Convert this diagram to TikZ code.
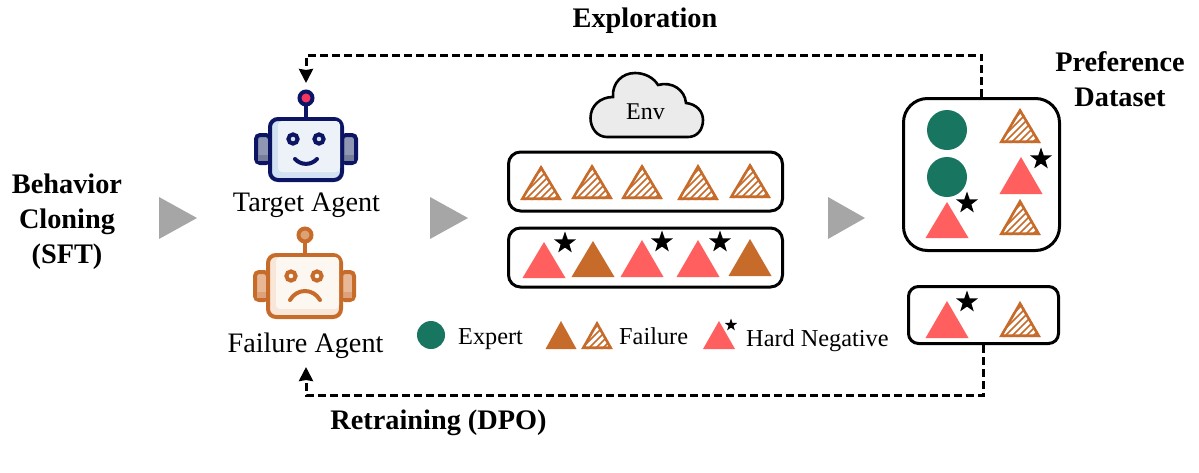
\documentclass[tikz,border=0pt]{standalone}
\usepackage{fontspec}
\setmainfont{Liberation Serif}
\usetikzlibrary{shapes.geometric,arrows.meta}
\definecolor{navy}{HTML}{0C1464}
\definecolor{rust}{HTML}{C66B2A}
\definecolor{coral}{HTML}{FF5F5F}
\definecolor{teal2}{HTML}{187660}
\definecolor{arrowgrey}{HTML}{A6A6A6}
\definecolor{cloudgrey}{HTML}{EBEBEB}
\definecolor{earblue}{HTML}{8F97B3}
\definecolor{earbluedark}{HTML}{767C9A}
\definecolor{facelight}{HTML}{EDF1F8}
\definecolor{faceshade}{HTML}{D3E2F2}
\definecolor{pinkdot}{HTML}{F5345F}
\definecolor{earrust}{HTML}{E8B795}
\definecolor{earrustdark}{HTML}{DDA27A}
\definecolor{faceplain}{HTML}{FDF7F2}
\definecolor{faceshaderust}{HTML}{F8E6D9}
\tikzset{
  x=1pt,y=-1pt,
  panel/.style={draw=black,line width=3pt,fill=white,rounded corners=12pt,inner sep=0pt},
  starmark/.style={star,star points=5,star point ratio=2.5,fill=black,inner sep=0pt,minimum size=23pt},
  dashline/.style={draw=black,line width=3pt,dash pattern=on 8pt off 4pt,-{Stealth[length=14pt,width=14pt,inset=1pt]}},
  plainlabel/.style={font=\fontsize{28.2}{30}\selectfont,inner sep=0pt,align=center},
  legendlabel/.style={font=\fontsize{24.3}{26}\selectfont,inner sep=0pt,anchor=base west},
  boldlabel/.style={font=\bfseries\fontsize{28.3}{35}\selectfont,inner sep=0pt,align=center},
  hatchline/.style={draw=rust,line width=1.7pt},
  triedge/.style={draw=rust,line width=2.6pt,line join=miter},
  robotnavy/.style={draw=navy,line width=4pt},
  robotrust/.style={draw=rust,line width=4pt}
}
% apex x, apex y, base y
\newcommand{\solidtri}[4]{\fill[#4] (#1,#2) -- (#1+21.5,#3) -- (#1-21.5,#3) -- cycle;}
\newcommand{\hatchtri}[3]{%
  \begin{scope}
    \clip (#1,#2) -- (#1+20.5,#3) -- (#1-20.5,#3) -- cycle;
    \foreach \k in {-6,...,6}{
      \draw[hatchline] (#1+\k*7-25,#3+2) -- (#1+\k*7+25,#3-48);
    }
  \end{scope}
  \draw[triedge] (#1,#2+2.5) -- (#1+18.6,#3-1.3) -- (#1-18.6,#3-1.3) -- cycle;
}
\newcommand{\hatchsmall}[3]{%
  \begin{scope}
    \clip (#1,#2) -- (#1+15.5,#3) -- (#1-15.5,#3) -- cycle;
    \foreach \k in {-5,...,5}{
      \draw[hatchline] (#1+\k*7-25,#3+2) -- (#1+\k*7+25,#3-48);
    }
  \end{scope}
  \draw[triedge] (#1,#2+2.5) -- (#1+13.6,#3-1.3) -- (#1-13.6,#3-1.3) -- cycle;
}
\begin{document}
\begin{tikzpicture}
\useasboundingbox (0,0) rectangle (1199,472);

% ---------- panels ----------
\node[panel,minimum width=274pt,minimum height=59pt] (rowa) at (645.5,181.5) {};
\node[panel,minimum width=274pt,minimum height=59pt] (rowb) at (645.5,257.5) {};
\node[panel,rounded corners=24pt,minimum width=156pt,minimum height=152pt] (bigbox) at (981.5,174.5) {};
\node[panel,rounded corners=10pt,minimum width=150pt,minimum height=57pt] (smallbox) at (983.5,315) {};

% ---------- cloud ----------
\draw[line width=2.6pt,fill=cloudgrey]
  (607,137) .. controls (597,137) and (590.5,128) .. (590.5,118)
  .. controls (590.5,106) and (600,97) .. (613,97)
  .. controls (612,83) and (622,73) .. (635,73)
  .. controls (645,73) and (654,78) .. (658,85)
  .. controls (672,81) and (685,90) .. (686,103)
  .. controls (696,104) and (703,111) .. (703,120)
  .. controls (703,130) and (697,137) .. (688,137) -- cycle;
\node[font=\fontsize{24}{26}\selectfont,inner sep=0pt] (envlabel) at (645.5,111.5) {Env};

% ---------- row a ----------
\hatchtri{541}{165}{200}
\hatchtri{592}{164}{199}
\hatchtri{642}{164}{199}
\hatchtri{698}{164}{200}
\hatchtri{750}{163}{198}

% ---------- row b ----------
\solidtri{544}{242}{278}{coral}
\solidtri{593}{241}{277}{rust}
\solidtri{642}{240}{277}{coral}
\solidtri{698}{240}{277}{coral}
\solidtri{750}{239}{276}{rust}
\node[starmark] (sa) at (565,243) {};
\node[starmark] (sb) at (662,242) {};
\node[starmark] (sc) at (720,242) {};

% ---------- big box content ----------
\node[circle,fill=teal2,minimum size=40pt,inner sep=0pt] (ga) at (947,130) {};
\node[circle,fill=teal2,minimum size=40pt,inner sep=0pt] (gb) at (947,177) {};
\hatchtri{1020}{108}{143}
\solidtri{1021}{157}{194}{coral}
\node[starmark] (sd) at (1041,159) {};
\solidtri{947}{202}{238}{coral}
\node[starmark] (se) at (967,203) {};
\hatchtri{1020}{199}{235}

% ---------- small box content ----------
\solidtri{947}{301}{338}{coral}
\node[starmark] (sf) at (967,302) {};
\hatchtri{1020}{301}{337}

% ---------- grey arrows ----------
\fill[arrowgrey] (159,197) -- (197,218) -- (159,239) -- cycle;
\fill[arrowgrey] (430,197) -- (468,218) -- (430,239) -- cycle;
\fill[arrowgrey] (828,197) -- (865,218) -- (828,239) -- cycle;

% ---------- target robot ----------
\draw[robotnavy] (306,100) -- (306,119);
\draw[robotnavy,fill=earblue,rounded corners=4pt] (256,135) rectangle (270,163);
\draw[robotnavy,fill=earblue,rounded corners=4pt] (342,135) rectangle (356,163);
\fill[earbluedark] (258,155) rectangle (268,161);
\fill[earbluedark] (344,155) rectangle (354,161);
\filldraw[robotnavy,fill=pinkdot] (306,98) circle (6.5pt);
\draw[robotnavy,fill=faceshade,rounded corners=8pt] (270,119) rectangle (342,180);
\fill[facelight,rounded corners=4pt] (278,121) rectangle (340,172);
\draw[robotnavy,fill=white!85!navy] (293,139) circle (4.6pt);
\draw[robotnavy,fill=white!85!navy] (319,139) circle (4.6pt);
\draw[robotnavy,line cap=round] (295,159) .. controls (301,165.5) and (311,165.5) .. (317,159);
\node[plainlabel,anchor=base] (target) at (306.5,211) {Target Agent};

% ---------- failure robot ----------
\draw[robotrust] (305,240) -- (305,255);
\draw[robotrust,fill=earrust,rounded corners=4pt] (255,272) rectangle (268,300);
\draw[robotrust,fill=earrust,rounded corners=4pt] (341,272) rectangle (354,300);
\fill[earrustdark] (257,292) rectangle (266,298);
\fill[earrustdark] (343,292) rectangle (352,298);
\filldraw[robotrust,fill=earrust!70!rust] (305,235) circle (6.5pt);
\draw[robotrust,fill=faceshaderust,rounded corners=8pt] (268,255) rectangle (341,317);
\fill[faceplain,rounded corners=4pt] (276,257) rectangle (339,309);
\draw[robotrust,fill=faceplain] (291,276) circle (4.6pt);
\draw[robotrust,fill=faceplain] (317,276) circle (4.6pt);
\draw[robotrust,line cap=round] (290,300) .. controls (297,288) and (313,288) .. (320,300);
\node[plainlabel,anchor=base] (failure) at (305.5,352) {Failure Agent};

% ---------- legend ----------
\node[circle,fill=teal2,minimum size=28pt,inner sep=0pt] (lga) at (431,335) {};
\node[legendlabel] (lexpert) at (458,344) {Expert};
\fill[rust] (561,321) -- (576.5,349) -- (545.5,349) -- cycle;
\hatchsmall{597}{321}{349}
\node[legendlabel] (lfail) at (619,344) {Failure};
\fill[coral] (719,321) -- (735,349) -- (703,349) -- cycle;
\node[star,star points=5,star point ratio=2.5,fill=black,inner sep=0pt,minimum size=13pt] (lstar) at (731,325) {};
\node[legendlabel] (lhard) at (746,346) {Hard Negative};

% ---------- bold labels ----------
\node[boldlabel] (explore) at (645,21) {Exploration};
\node[boldlabel] (retrain) at (438.5,423) {Retraining (DPO)};
\node[boldlabel] (bc) at (67,221.5) {Behavior\\Cloning\\(SFT)};
\node[boldlabel] (pref) at (1120,79) {Preference\\Dataset};

% ---------- connectors ----------
\coordinate (toptip) at (306,83);
\coordinate (topcorner) at (306,55);
\coordinate (bottip) at (306,367);
\coordinate (botcorner) at (306,395);
\draw[dashline] (bigbox.north) |- (topcorner) -- (toptip);
\draw[dashline] (smallbox.south) |- (botcorner) -- (bottip);
\end{tikzpicture}
\end{document}
